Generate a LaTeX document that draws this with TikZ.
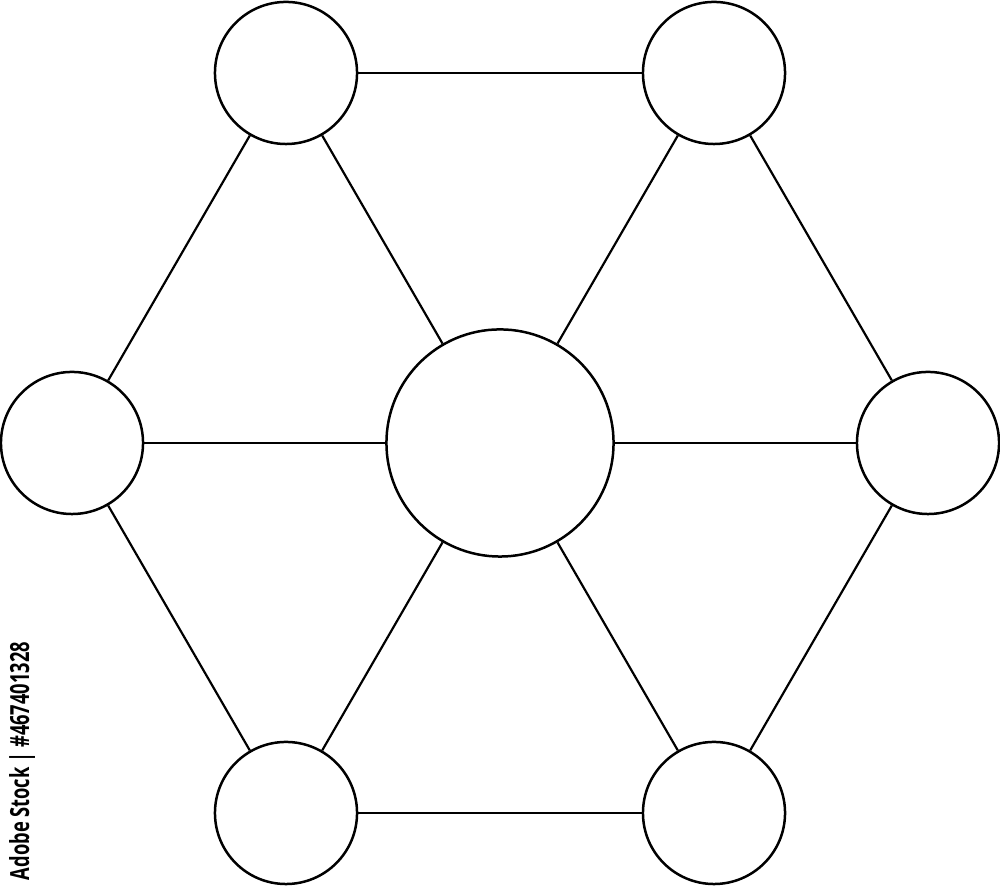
\documentclass[tikz,border=0pt]{standalone}
\usepackage{fontspec}
\setsansfont{Open Sans}
\begin{document}
\begin{tikzpicture}[x=0.01cm,y=0.01cm,
  hub/.style={circle,draw=black,line width=0.71pt,fill=white,inner sep=0pt,minimum size=2.27cm},
  sat/.style={circle,draw=black,line width=0.71pt,fill=white,inner sep=0pt,minimum size=1.42cm},
  link/.style={draw=black,line width=0.62pt}]
\useasboundingbox (0,0) rectangle (1000,886);
\node[hub] (c) at (500,443) {};
\node[sat] (tl) at (286,813) {};
\node[sat] (tr) at (714,813) {};
\node[sat] (l) at (72,443) {};
\node[sat] (r) at (928,443) {};
\node[sat] (bl) at (286,73) {};
\node[sat] (br) at (714,73) {};
\draw[link] (tl) -- (tr);
\draw[link] (tr) -- (r);
\draw[link] (r) -- (br);
\draw[link] (br) -- (bl);
\draw[link] (bl) -- (l);
\draw[link] (l) -- (tl);
\draw[link] (c) -- (tl);
\draw[link] (c) -- (tr);
\draw[link] (c) -- (l);
\draw[link] (c) -- (r);
\draw[link] (c) -- (bl);
\draw[link] (c) -- (br);
\node[rotate=90,inner sep=0pt] (wm) at (22,125) {\resizebox{2.38cm}{0.2cm}{\sffamily\bfseries Adobe Stock | \#467401328}};
\end{tikzpicture}
\end{document}
